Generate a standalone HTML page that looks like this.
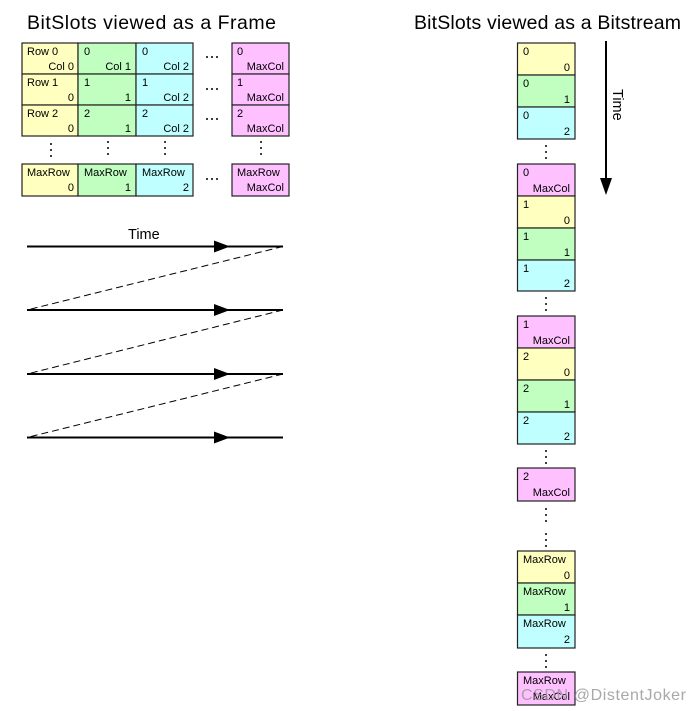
<!DOCTYPE html>
<html><head><meta charset="utf-8"><style>
html,body{margin:0;padding:0;background:#fff;}
svg{display:block;font-family:"Liberation Sans",Arial,sans-serif;}
.c{stroke:#222;stroke-width:1.2;}
.t{font-size:11px;fill:#000;}
.r{text-anchor:end;}
</style></head><body>
<svg width="700" height="711" viewBox="0 0 700 711" xmlns="http://www.w3.org/2000/svg">
<text x="27" y="29" font-size="19.5" textLength="249">BitSlots viewed as a Frame</text>
<text x="414" y="29" font-size="19.5" textLength="267">BitSlots viewed as a Bitstream</text>

<g id="grid">
<rect class="c" x="22" y="43" width="56" height="31" fill="#ffffc0"/>
<rect class="c" x="78" y="43" width="58" height="31" fill="#c0ffc0"/>
<rect class="c" x="136" y="43" width="57" height="31" fill="#c0ffff"/>
<rect class="c" x="232" y="43" width="57" height="31" fill="#ffc0ff"/>
<text class="t" x="27" y="55">Row 0</text><text class="t r" x="74" y="70">Col 0</text>
<text class="t" x="84" y="55">0</text><text class="t r" x="131" y="70">Col 1</text>
<text class="t" x="142" y="55">0</text><text class="t r" x="189" y="70">Col 2</text>
<text class="t" x="237" y="55">0</text><text class="t r" x="284" y="70">MaxCol</text>
<rect class="c" x="22" y="74" width="56" height="31" fill="#ffffc0"/>
<rect class="c" x="78" y="74" width="58" height="31" fill="#c0ffc0"/>
<rect class="c" x="136" y="74" width="57" height="31" fill="#c0ffff"/>
<rect class="c" x="232" y="74" width="57" height="31" fill="#ffc0ff"/>
<text class="t" x="27" y="86">Row 1</text><text class="t r" x="74" y="101">0</text>
<text class="t" x="84" y="86">1</text><text class="t r" x="131" y="101">1</text>
<text class="t" x="142" y="86">1</text><text class="t r" x="189" y="101">Col 2</text>
<text class="t" x="237" y="86" fill="#a00">1</text><text class="t r" x="284" y="101">MaxCol</text>
<rect class="c" x="22" y="105" width="56" height="31" fill="#ffffc0"/>
<rect class="c" x="78" y="105" width="58" height="31" fill="#c0ffc0"/>
<rect class="c" x="136" y="105" width="57" height="31" fill="#c0ffff"/>
<rect class="c" x="232" y="105" width="57" height="31" fill="#ffc0ff"/>
<text class="t" x="27" y="117">Row 2</text><text class="t r" x="74" y="132">0</text>
<text class="t" x="84" y="117">2</text><text class="t r" x="131" y="132">1</text>
<text class="t" x="142" y="117">2</text><text class="t r" x="189" y="132">Col 2</text>
<text class="t" x="237" y="117">2</text><text class="t r" x="284" y="132">MaxCol</text>
<rect class="c" x="22" y="164" width="56" height="32" fill="#ffffc0"/>
<rect class="c" x="78" y="164" width="58" height="32" fill="#c0ffc0"/>
<rect class="c" x="136" y="164" width="57" height="32" fill="#c0ffff"/>
<rect class="c" x="232" y="164" width="57" height="32" fill="#ffc0ff"/>
<text class="t" x="27" y="176">MaxRow</text><text class="t r" x="74" y="191">0</text>
<text class="t" x="84" y="176">MaxRow</text><text class="t r" x="131" y="191">1</text>
<text class="t" x="142" y="176">MaxRow</text><text class="t r" x="189" y="191">2</text>
<text class="t" x="237" y="176">MaxRow</text><text class="t r" x="284" y="191">MaxCol</text>
</g>
<g fill="#000">
<circle cx="207" cy="57" r="1"/><circle cx="212" cy="57" r="1"/><circle cx="217" cy="57" r="1"/>
<circle cx="207" cy="89" r="1"/><circle cx="212" cy="89" r="1"/><circle cx="217" cy="89" r="1"/>
<circle cx="207" cy="119" r="1"/><circle cx="212" cy="119" r="1"/><circle cx="217" cy="119" r="1"/>
<circle cx="207" cy="179" r="1"/><circle cx="212" cy="179" r="1"/><circle cx="217" cy="179" r="1"/>
<circle cx="51" cy="144" r="1"/><circle cx="51" cy="150" r="1"/><circle cx="51" cy="156" r="1"/>
<circle cx="108" cy="142" r="1"/><circle cx="108" cy="148" r="1"/><circle cx="108" cy="154" r="1"/>
<circle cx="165" cy="142" r="1"/><circle cx="165" cy="148" r="1"/><circle cx="165" cy="154" r="1"/>
<circle cx="261" cy="142" r="1"/><circle cx="261" cy="148" r="1"/><circle cx="261" cy="154" r="1"/>
</g>

<text x="128" y="239" font-size="14.5">Time</text>
<g stroke="#000" stroke-width="2">
<line x1="27" y1="246.5" x2="283" y2="246.5"/>
<line x1="27" y1="310" x2="283" y2="310"/>
<line x1="27" y1="374" x2="283" y2="374"/>
<line x1="27" y1="437.5" x2="283" y2="437.5"/>
</g>
<g fill="#000">
<polygon points="214,240.5 230,246.5 214,252.5"/>
<polygon points="214,304 230,310 214,316"/>
<polygon points="214,368 230,374 214,380"/>
<polygon points="214,431.5 230,437.5 214,443.5"/>
</g>
<g stroke="#000" stroke-width="1" stroke-dasharray="7,4">
<line x1="283" y1="246.5" x2="27" y2="310"/>
<line x1="283" y1="310" x2="27" y2="374"/>
<line x1="283" y1="374" x2="27" y2="437.5"/>
</g>

<g>
<rect class="c" x="517.5" y="43" width="57.5" height="32" fill="#ffffc0"/><text class="t" x="523" y="55">0</text><text class="t r" x="570" y="71">0</text>
<rect class="c" x="517.5" y="75" width="57.5" height="32" fill="#c0ffc0"/><text class="t" x="523" y="87">0</text><text class="t r" x="570" y="103">1</text>
<rect class="c" x="517.5" y="107" width="57.5" height="32" fill="#c0ffff"/><text class="t" x="523" y="119">0</text><text class="t r" x="570" y="135">2</text>
<rect class="c" x="517.5" y="164" width="57.5" height="32" fill="#ffc0ff"/><text class="t" x="523" y="176">0</text><text class="t r" x="570" y="192">MaxCol</text>
<rect class="c" x="517.5" y="196" width="57.5" height="32" fill="#ffffc0"/><text class="t" x="523" y="208" fill="#a00">1</text><text class="t r" x="570" y="224">0</text>
<rect class="c" x="517.5" y="228" width="57.5" height="32" fill="#c0ffc0"/><text class="t" x="523" y="240">1</text><text class="t r" x="570" y="256">1</text>
<rect class="c" x="517.5" y="260" width="57.5" height="31" fill="#c0ffff"/><text class="t" x="523" y="272">1</text><text class="t r" x="570" y="287">2</text>
<rect class="c" x="517.5" y="316" width="57.5" height="32" fill="#ffc0ff"/><text class="t" x="523" y="328" fill="#a00">1</text><text class="t r" x="570" y="344">MaxCol</text>
<rect class="c" x="517.5" y="348" width="57.5" height="32" fill="#ffffc0"/><text class="t" x="523" y="360">2</text><text class="t r" x="570" y="376">0</text>
<rect class="c" x="517.5" y="380" width="57.5" height="32" fill="#c0ffc0"/><text class="t" x="523" y="392">2</text><text class="t r" x="570" y="408">1</text>
<rect class="c" x="517.5" y="412" width="57.5" height="32" fill="#c0ffff"/><text class="t" x="523" y="424">2</text><text class="t r" x="570" y="440">2</text>
<rect class="c" x="517.5" y="468" width="57.5" height="33" fill="#ffc0ff"/><text class="t" x="523" y="480">2</text><text class="t r" x="570" y="496">MaxCol</text>
<rect class="c" x="517.5" y="551" width="57.5" height="32" fill="#ffffc0"/><text class="t" x="523" y="563">MaxRow</text><text class="t r" x="570" y="579">0</text>
<rect class="c" x="517.5" y="583" width="57.5" height="32" fill="#c0ffc0"/><text class="t" x="523" y="595">MaxRow</text><text class="t r" x="570" y="611">1</text>
<rect class="c" x="517.5" y="615" width="57.5" height="33" fill="#c0ffff"/><text class="t" x="523" y="627">MaxRow</text><text class="t r" x="570" y="643">2</text>
<rect class="c" x="517.5" y="672" width="57.5" height="33" fill="#ffc0ff"/><text class="t" x="523" y="684">MaxRow</text><text class="t r" x="570" y="700">MaxCol</text>
</g>
<g fill="#000">
<circle cx="546" cy="146" r="1"/><circle cx="546" cy="152" r="1"/><circle cx="546" cy="158" r="1"/>
<circle cx="546" cy="298" r="1"/><circle cx="546" cy="304" r="1"/><circle cx="546" cy="310" r="1"/>
<circle cx="546" cy="451" r="1"/><circle cx="546" cy="457" r="1"/><circle cx="546" cy="463" r="1"/>
<circle cx="546" cy="509" r="1"/><circle cx="546" cy="515" r="1"/><circle cx="546" cy="521" r="1"/>
<circle cx="546" cy="534" r="1"/><circle cx="546" cy="540" r="1"/><circle cx="546" cy="546" r="1"/>
<circle cx="546" cy="655" r="1"/><circle cx="546" cy="661" r="1"/><circle cx="546" cy="667" r="1"/>
</g>
<line x1="606" y1="41" x2="606" y2="180" stroke="#000" stroke-width="2"/>
<polygon points="600,178 612,178 606,195" fill="#000"/>
<text x="0" y="0" font-size="14.5" transform="translate(613,89) rotate(90)">Time</text>

<text x="521" y="700" font-size="16" textLength="165" fill="#999" fill-opacity="0.85">CSDN @DistentJoker</text>
</svg>
</body></html>
